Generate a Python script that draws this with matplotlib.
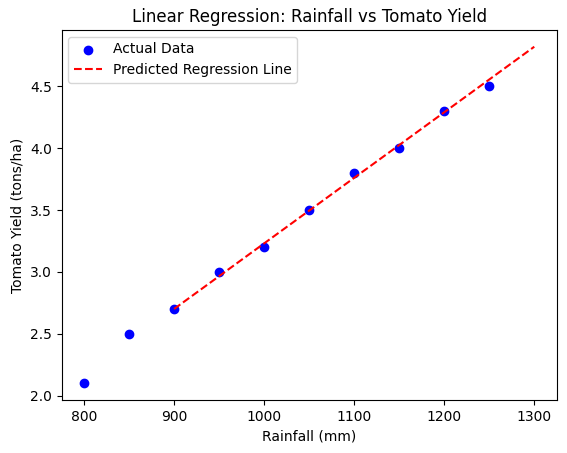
import matplotlib
matplotlib.use("Agg")
import matplotlib.pyplot as plt

rainfall = [800, 850, 900, 950, 1000, 1050, 1100, 1150, 1200, 1250]
tomato_yield = [2.1, 2.5, 2.7, 3.0, 3.2, 3.5, 3.8, 4.0, 4.3, 4.5]

pred_rainfall = [900, 1300]
pred_yield = [2.70, 4.82]

fig = plt.figure(figsize=(5.67, 4.53), dpi=100)
ax = fig.add_axes([0.1085, 0.117, 0.8735, 0.817])

ax.scatter(rainfall, tomato_yield, color='blue', label='Actual Data')
ax.plot(pred_rainfall, pred_yield, color='red', linestyle='--', label='Predicted Regression Line')

ax.set_title('Linear Regression: Rainfall vs Tomato Yield')
ax.set_xlabel('Rainfall (mm)')
ax.set_ylabel('Tomato Yield (tons/ha)')
ax.legend(loc='upper left')

fig.savefig('out.png', dpi=100)
